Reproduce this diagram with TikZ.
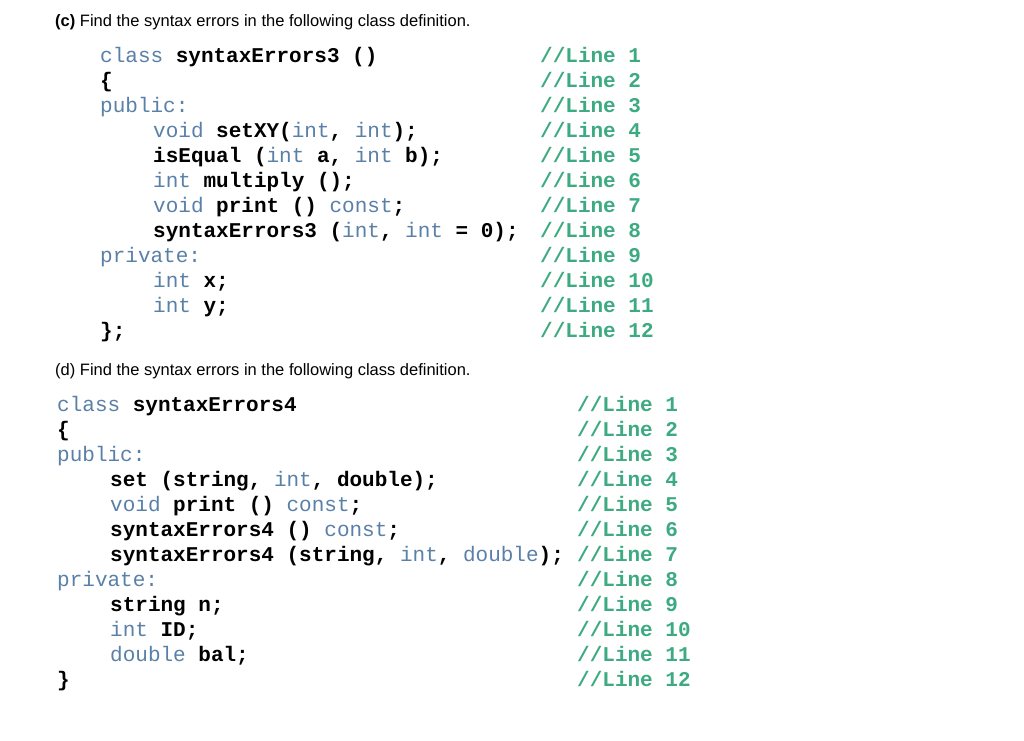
\documentclass[tikz,border=0pt]{standalone}
\usepackage{fontspec}
\setmainfont{Liberation Sans}
\newfontfamily\codef{Liberation Mono}
\definecolor{kwc}{HTML}{5A80A8}
\definecolor{cmc}{HTML}{3DAA82}
\newcommand{\kw}[1]{{\mdseries\color{kwc}#1}}
\begin{document}
\begin{tikzpicture}[x=1pt,y=-1pt,
  codel/.style={anchor=base west,inner sep=0pt,font=\codef\bfseries\fontsize{21}{25}\selectfont},
  cmt/.style={codel,text=cmc},
  ttl/.style={anchor=base west,inner sep=0pt,font=\fontsize{16.5}{20}\selectfont}]
\useasboundingbox[fill=white] (0,0) rectangle (1024,740);
\node[ttl] (tc) at (55,26) {\textbf{(c)} Find the syntax errors in the following class definition.};
\node[ttl] (td) at (55,375) {(d) Find the syntax errors in the following class definition.};
% (c)
\foreach \i/\x/\t in {1/100/{\kw{class} syntaxErrors3 ()},2/100/{\{},3/100/{\kw{public:}},
 4/153/{\kw{void} setXY(\kw{int}, \kw{int});},5/153/{isEqual (\kw{int} a, \kw{int} b);},
 6/153/{\kw{int} multiply ();},7/153/{\kw{void} print () \kw{const};},
 8/153/{syntaxErrors3 (\kw{int}, \kw{int} = 0);},9/100/{\kw{private:}},
 10/153/{\kw{int} x;},11/153/{\kw{int} y;},12/100/{\};}}
{\node[codel] (c\i) at (\x,{62+25*(\i-1)}) {\t};
 \node[cmt] (cc\i) at (540,{62+25*(\i-1)}) {//Line \i};}
% (d)
\foreach \i/\x/\t in {1/57/{\kw{class} syntaxErrors4},2/57/{\{},3/57/{\kw{public:}},
 4/110/{set (string, \kw{int}, double);},5/110/{\kw{void} print () \kw{const};},
 6/110/{syntaxErrors4 () \kw{const};},7/110/{syntaxErrors4 (string, \kw{int}, \kw{double});},
 8/57/{\kw{private:}},9/110/{string n;},10/110/{\kw{int} ID;},11/110/{\kw{double} bal;},12/57/{\}}}
{\node[codel] (d\i) at (\x,{411+25*(\i-1)}) {\t};
 \node[cmt] (dc\i) at (577,{411+25*(\i-1)}) {//Line \i};}
\end{tikzpicture}
\end{document}
